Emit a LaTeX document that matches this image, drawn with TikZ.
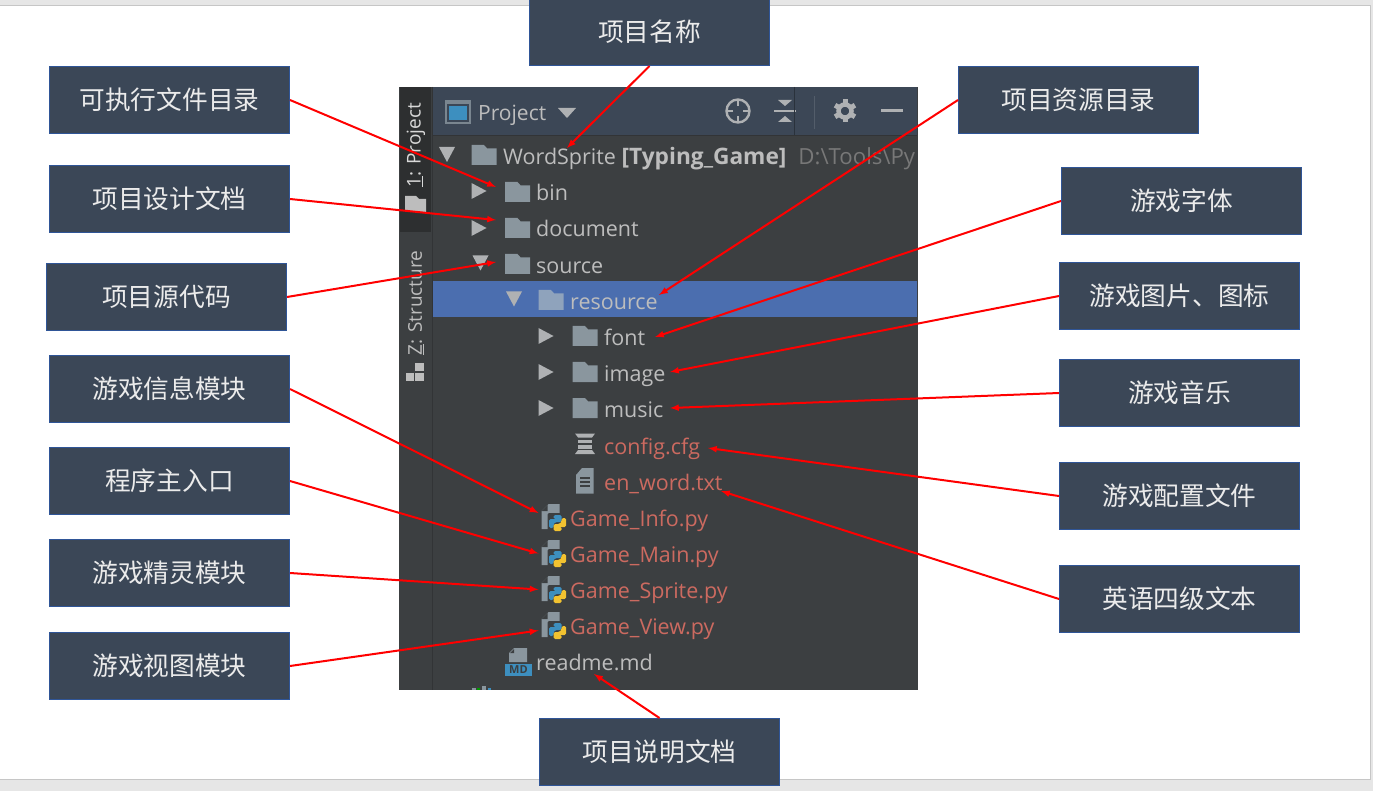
\documentclass[tikz,border=0pt]{standalone}
\usepackage{fontspec}
\setmainfont{Open Sans}
\newfontfamily\cjk{Noto Sans CJK SC}
\usetikzlibrary{arrows}
\definecolor{pagegrey}{HTML}{E6E6E6}
\definecolor{edgegrey}{HTML}{C6C6C6}
\definecolor{boxfill}{HTML}{3B4757}
\definecolor{boxedge}{HTML}{2F5597}
\definecolor{panel}{HTML}{3C3F41}
\definecolor{panelhead}{HTML}{3C4756}
\definecolor{tabdark}{HTML}{2D2F30}
\definecolor{panelline}{HTML}{323436}
\definecolor{rowblue}{HTML}{4B6EAF}
\definecolor{icongrey}{HTML}{8A969E}
\definecolor{iconlight}{HTML}{8FA3BC}
\definecolor{arrowgrey}{HTML}{AFB1B3}
\definecolor{textgrey}{HTML}{BDBDBD}
\definecolor{textred}{HTML}{CC6A60}
\definecolor{pathgrey}{HTML}{787878}
\definecolor{pyblue}{HTML}{3D8FBF}
\definecolor{pyyellow}{HTML}{F2C230}
\tikzset{
	labelbox/.style={draw=boxedge, fill=boxfill, line width=1pt, minimum width=240pt, minimum height=67pt, inner sep=0pt, text=white!92!black, font=\cjk\fontsize{25.7}{30}\selectfont},
	rowtext/.style={anchor=base west, inner sep=0pt, yshift=-0.7pt, text=textgrey, font=\fontsize{21.5}{25}\selectfont},
	redtext/.style={rowtext, text=textred},
	sidetext/.style={rotate=90, inner sep=0pt, text=textgrey, font=\fontsize{19}{23}\selectfont},
	link/.style={draw=red, line width=2pt, ->},
	pics/folderic/.style={code={
		\fill[#1] (-12.5,-10) -- (0,-10) -- (3,-6.7) -- (12.5,-6.7) -- (12.5,10) -- (-12.5,10) -- cycle;
	}},
	pics/opentri/.style={code={
		\fill[arrowgrey] (-8,-7.5) -- (8,-7.5) -- (0,7.5) -- cycle;
	}},
	pics/closedtri/.style={code={
		\fill[arrowgrey] (-7.5,-8) -- (7.5,0) -- (-7.5,8) -- cycle;
	}},
	pics/pyfile/.style={code={
		\fill[icongrey] (-5,-14) -- (6,-14) -- (6,11) -- (-12,11) -- (-12,-7) -- cycle;
		\fill[panel] (-6,-13) -- (-6,-7) -- (-12,-7) -- cycle;
		\fill[panel, rounded corners=2pt] (-6,-5) rectangle (14.5,15);
		\fill[pyblue, rounded corners=1.5pt] (0,-3) -- (8,-3) -- (8,4) -- (2,4) -- (0,6) -- (0,10) -- (-4.5,10) -- (-4.5,1) -- (4,1) -- (0,1) -- cycle;
		\fill[pyyellow, rounded corners=1.5pt] (8,13) -- (0,13) -- (0,6) -- (6,6) -- (8,4) -- (8,0) -- (12.5,0) -- (12.5,9) -- (4,9) -- (8,9) -- cycle;
	}}
}
\begin{document}
\begin{tikzpicture}[x=1pt, y=-1pt, >=latex]
	\useasboundingbox (0,0) rectangle (1373,791);
	%Page
	\fill[pagegrey] (0,0) rectangle (1373,791);
	\fill[white, draw=edgegrey, line width=1pt] (-2,5.5) rectangle (1370.5,779.5);
	%Panel
	\fill[panel] (399,87) rectangle (918,690);
	\fill[panelhead] (433,87) rectangle (917,135);
	\fill[tabdark] (400,87) rectangle (431,232);
	\draw[panelline] (432.5,87) -- (432.5,690);
	\draw[panelline] (433,135.5) -- (917,135.5);
	\fill[rowblue] (433,281) rectangle (916.5,317.5);
	%Side tabs
	\node[sidetext, text=white!85!black] (projecttab) at (416,145) {\underline{1}: Project};
	\fill[textgrey] (405,196) -- (416,196) -- (419,199) -- (426,199) -- (426,212) -- (405,212) -- cycle;
	\node[sidetext] (structuretab) at (416,303) {\underline{Z}: Structure};
	\fill[textgrey] (415,363) rectangle (424,371.5);
	\fill[textgrey] (406,373) rectangle (414,381);
	\fill[textgrey] (415,373) rectangle (424,381);
	%Header
	\fill[icongrey!80!panelhead] (445,100) rectangle (471,124);
	\fill[panelhead] (447,104) rectangle (469,122);
	\fill[pyblue] (449,106) rectangle (467,120);
	\node[rowtext, font=\fontsize{21}{25}\selectfont] (projecttitle) at (478,120) {Project};
	\fill[arrowgrey] (558,108) -- (576,108) -- (567,118) -- cycle;
	\draw[arrowgrey, line width=2.4pt] (738,111) circle (11.5);
	\foreach \a in {0,90,180,270}
		\draw[arrowgrey, line width=2.4pt] (738,111) ++(\a:5) -- ++(\a:6);
	\fill[arrowgrey] (778,100) -- (792,100) -- (785,106) -- cycle;
	\fill[arrowgrey] (778,122) -- (792,122) -- (785,116) -- cycle;
	\draw[arrowgrey, line width=2.4pt] (774,111) -- (796,111);
	\draw[black!30!panelhead] (794.5,87) -- (794.5,135);
	\draw[white!12!panelhead] (814.5,96) -- (814.5,129);
	\draw[arrowgrey, line width=4.5pt] (845,111) circle (6.5);
	\foreach \a in {30,90,...,330}
		\draw[arrowgrey, line width=5pt] (845,111) ++(\a:8) -- ++(\a:3.5);
	\draw[arrowgrey, line width=3pt] (881,111) -- (903,111);
	%Tree
	\pic at (447,154.5) {opentri};
	\pic at (484,155) {folderic=icongrey};
	\begin{scope}
		\clip (433,136) rectangle (917,175);
		\node[rowtext] (wordsprite) at (503,164) {WordSprite {\bfseries\fontsize{22.7}{25}\selectfont [Typing\_Game]}\hspace{12pt}\textcolor{pathgrey}{\fontsize{22.2}{25}\selectfont D:\textbackslash Tools\textbackslash Py}};
	\end{scope}
	\pic at (479,191) {closedtri};
	\pic at (517.5,192) {folderic=icongrey};
	\node[rowtext] (bin) at (536,200) {bin};
	\pic at (479,228) {closedtri};
	\pic at (517.5,228) {folderic=icongrey};
	\node[rowtext] (document) at (536,236) {document};
	\pic at (480.5,263) {opentri};
	\pic at (517.5,264) {folderic=icongrey};
	\node[rowtext] (source) at (536,273) {source};
	\pic at (514,299) {opentri};
	\pic at (551,300) {folderic=iconlight};
	\node[rowtext] (resource) at (570,309) {resource};
	\pic at (546,336) {closedtri};
	\pic at (585,336) {folderic=icongrey};
	\node[rowtext] (font) at (604,345) {font};
	\pic at (546,372) {closedtri};
	\pic at (585,372) {folderic=icongrey};
	\node[rowtext] (image) at (604,381) {image};
	\pic at (546,408) {closedtri};
	\pic at (585,408) {folderic=icongrey};
	\node[rowtext] (music) at (604,417) {music};
	%config icon
	\fill[arrowgrey] (575,433.5) -- (595,433.5) -- (592,437.5) -- (578,437.5) -- cycle;
	\fill[arrowgrey] (578,439.5) rectangle (592,443);
	\fill[arrowgrey] (578,445) rectangle (592,448.5);
	\fill[arrowgrey] (578,450) -- (592,450) -- (595,454) -- (575,454) -- cycle;
	\node[redtext] (config) at (604,453.5) {config.cfg};
	%txt icon
	\fill[icongrey] (582,468) -- (593.5,468) -- (593.5,493.5) -- (576,493.5) -- (576,475) -- cycle;
	\foreach \y in {478,482,486}
		\draw[panel, line width=1.4pt] (580,\y) -- (590,\y);
	\node[redtext] (enword) at (604,490) {en\_word.txt};
	\pic at (553.5,518) {pyfile};
	\node[redtext] (gameinfo) at (570,526) {Game\_Info.py};
	\pic at (553.5,554) {pyfile};
	\node[redtext] (gamemain) at (570,562) {Game\_Main.py};
	\pic at (553.5,590) {pyfile};
	\node[redtext] (gamesprite) at (570,598) {Game\_Sprite.py};
	\pic at (553.5,626) {pyfile};
	\node[redtext] (gameview) at (570,634) {Game\_View.py};
	%readme icon
	\fill[icongrey] (514,648) -- (527,648) -- (527,662) -- (509,662) -- (509,653) -- cycle;
	\fill[panel] (514,649) -- (514,653) -- (510,653) -- cycle;
	\fill[pyblue] (505,664) rectangle (532,676);
	\node[inner sep=0pt, text=panel, font=\bfseries\fontsize{11}{12}\selectfont] (mdmark) at (518.5,670) {MD};
	\node[rowtext] (readme) at (536,670) {readme.md};
	%Next row, cut off
	\fill[icongrey] (472,688) rectangle (476,690);
	\fill[icongrey] (482,686) rectangle (486,690);
	\fill[green!60!black] (477,688) rectangle (480,690);
	\fill[pyblue] (488,688) rectangle (491,690);
	%Boxes
	\node[labelbox] (mingcheng) at (649.5,32) {项目名称};
	\node[labelbox] (zhixing) at (169.5,100) {可执行文件目录};
	\node[labelbox] (sheji) at (169.5,199) {项目设计文档};
	\node[labelbox] (yuandaima) at (166.5,297) {项目源代码};
	\node[labelbox] (xinxi) at (169.5,389) {游戏信息模块};
	\node[labelbox] (rukou) at (169.5,481) {程序主入口};
	\node[labelbox] (jingling) at (169.5,573) {游戏精灵模块};
	\node[labelbox] (shitu) at (169.5,666) {游戏视图模块};
	\node[labelbox] (shuoming) at (659.5,752) {项目说明文档};
	\node[labelbox] (ziyuan) at (1078.5,100) {项目资源目录};
	\node[labelbox] (ziti) at (1181.5,201) {游戏字体};
	\node[labelbox] (tupian) at (1179.5,296) {游戏图片、图标};
	\node[labelbox] (yinyue) at (1179.5,393) {游戏音乐};
	\node[labelbox] (peizhi) at (1179.5,496) {游戏配置文件};
	\node[labelbox] (siji) at (1179.5,599) {英语四级文本};
	%Arrow tips
	\coordinate (tipname) at (567,148);
	\coordinate (tipbin) at (496,187);
	\coordinate (tipdoc) at (496,220);
	\coordinate (tipsrc) at (496,262);
	\coordinate (tipres) at (659,295);
	\coordinate (tipfont) at (655,337);
	\coordinate (tipimage) at (670,372);
	\coordinate (tipmusic) at (670,408);
	\coordinate (tipconfig) at (708,448);
	\coordinate (tipword) at (721,491);
	\coordinate (tipinfo) at (538.5,513);
	\coordinate (tipmain) at (538.5,553.5);
	\coordinate (tipsprite) at (538.5,589.5);
	\coordinate (tipview) at (538.5,630.5);
	\coordinate (tipreadme) at (594,674);
	%Arrows
	\draw[link] (mingcheng.south) -- (tipname);
	\draw[link] (zhixing.east) -- (tipbin);
	\draw[link] (sheji.east) -- (tipdoc);
	\draw[link] (yuandaima.east) -- (tipsrc);
	\draw[link] (xinxi.east) -- (tipinfo);
	\draw[link] (rukou.east) -- (tipmain);
	\draw[link] (jingling.east) -- (tipsprite);
	\draw[link] (shitu.east) -- (tipview);
	\draw[link] (shuoming.north) -- (tipreadme);
	\draw[link] (ziyuan.west) -- (tipres);
	\draw[link] (ziti.west) -- (tipfont);
	\draw[link] (tupian.west) -- (tipimage);
	\draw[link] (yinyue.west) -- (tipmusic);
	\draw[link] (peizhi.west) -- (tipconfig);
	\draw[link] (siji.west) -- (tipword);
\end{tikzpicture}
\end{document}
